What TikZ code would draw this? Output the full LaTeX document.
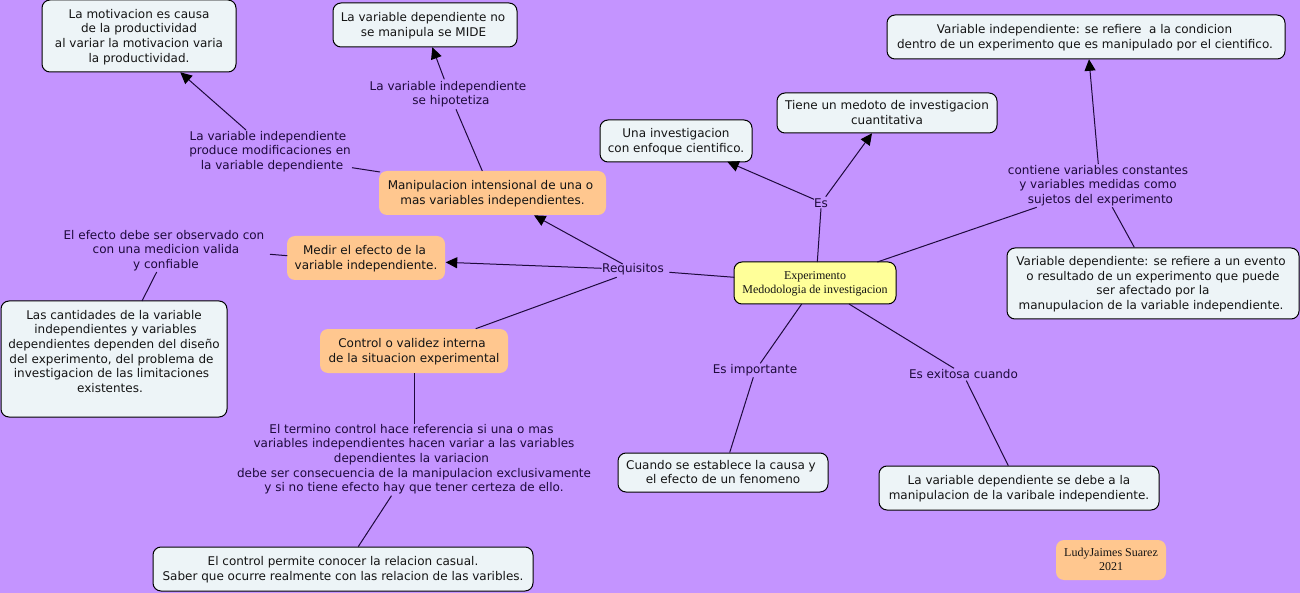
\documentclass[tikz,border=0pt]{standalone}
\usepackage{fontspec}
\setmainfont{DejaVu Sans}
\newfontfamily\serifcap{Liberation Serif}
\usetikzlibrary{arrows.meta}
\definecolor{bgp}{HTML}{C494FF}
\definecolor{boxc}{HTML}{EDF4F7}
\definecolor{orangec}{HTML}{FFC78F}
\definecolor{yellowc}{HTML}{FFFF99}
\definecolor{inkc}{HTML}{1E0A3C}
\definecolor{boxink}{HTML}{141414}
\newcommand{\tgap}[1]{\rule{#1pt}{0pt}}
\newcommand{\fs}{\rule{0pt}{11.3pt}}
\newcommand{\fss}{\rule{0pt}{10.2pt}}
\tikzset{
  txtbase/.style={align=center,inner sep=0pt},
  txt/.style={txtbase,font=\fontsize{12}{14.6}\selectfont,
    execute at end node={\rule[-3pt]{0pt}{3pt}}},
  boxn/.style={txt,text=boxink,draw=black,line width=1pt,fill=boxc,rounded corners=8pt},
  orangen/.style={txt,text=boxink,fill=orangec,rounded corners=8pt},
  yellown/.style={txtbase,text=boxink,draw=black,line width=1pt,fill=yellowc,rounded corners=8pt,
    font=\serifcap\fontsize{12}{13.6}\selectfont,
    execute at end node={\rule[-3pt]{0pt}{3pt}}},
  ludyn/.style={orangen,font=\serifcap\fontsize{12}{13.6}\selectfont},
  lab/.style={txt,text=inkc},
  conn/.style={line width=1pt,color=inkc},
  arr/.style={conn,-{Triangle[length=11.5pt,width=11pt,color=black]}}
}
\begin{document}
\begin{tikzpicture}[x=1pt,y=-1pt]
\useasboundingbox (0,0) rectangle (1300,593);
\fill[bgp] (0,0) rectangle (1300,593);
% boxes
\node[boxn,minimum width=194pt,minimum height=72pt] (motiv) at (139,36) {\fs La motivacion es causa\\de la productividad\\al variar la motivacion varia\\la productividad.};
\node[boxn,minimum width=184pt,minimum height=44pt] (nomide) at (425,25) {\fs La variable dependiente no\tgap{4}\\se manipula se MIDE\tgap{3}};
\node[boxn,minimum width=220pt,minimum height=40pt] (tiene) at (887,113) {\fs Tiene un medoto de investigacion\\cuantitativa};
\node[boxn,minimum width=152pt,minimum height=42pt] (una) at (676,141) {\fs Una investigacion\\con enfoque cientifico.};
\node[boxn,minimum width=398pt,minimum height=44pt] (vind) at (1086,37) {\fs Variable independiente: se refiere\ \ a la condicion\tgap{3}\\dentro de un experimento que es manipulado por el cientifico.\tgap{2}};
\node[boxn,minimum width=292pt,minimum height=71pt] (vdep) at (1153,283.5) {\fs Variable dependiente: se refiere a un evento\tgap{4}\\o resultado de un experimento que puede\\ser afectado por la\\manupulacion de la variable independiente.\tgap{4}};
\node[yellown,minimum width=162pt,minimum height=42pt] (exp) at (815,283) {\fss Experimento\\Medodologia de investigacion};
\node[orangen,minimum width=227pt,minimum height=44pt] (man) at (492.5,193) {\fs Manipulacion intensional de una o\tgap{4}\\mas variables independientes.};
\node[orangen,minimum width=158pt,minimum height=44pt] (medir) at (366,258) {\fs Medir el efecto de la\tgap{3}\\variable independiente.};
\node[orangen,minimum width=188pt,minimum height=44pt] (ctrl) at (414,351) {\fs Control o validez interna\tgap{4}\\de la situacion experimental};
\node[boxn,minimum width=226pt,minimum height=116pt] (cant) at (114,359) {\fs Las cantidades de la variable\\\tgap{3}independientes y variables\\dependientes dependen del diseño\\del experimento, del problema de\tgap{5}\\investigacion de las limitaciones\tgap{5}\\existentes.\tgap{8}\\\mbox{}};
\node[boxn,minimum width=210pt,minimum height=39pt] (cuando) at (723,472.5) {\fs Cuando se establece la causa y\tgap{4}\\el efecto de un fenomeno};
\node[boxn,minimum width=280pt,minimum height=44pt] (lavar) at (1019,488) {\fs La variable dependiente se debe a la\\manipulacion de la varibale independiente.};
\node[boxn,minimum width=380pt,minimum height=44pt] (permite) at (343,569) {\fs El control permite conocer la relacion casual.\\Saber que ocurre realmente con las relacion de las varibles.};
\node[ludyn,minimum width=110pt,minimum height=40pt] (ludy) at (1111,560) {\fss LudyJaimes Suarez\\2021};
% linking phrases
\node[lab] (lhip) at (448,93.3) {\fs La variable independiente\\\tgap{6}se hipotetiza};
\node[lab] (lprod) at (270,150.7) {\fs La variable independiente\tgap{4}\\produce modificaciones en\\\tgap{4}la variable dependiente};
\node[lab] (lefe) at (164,249.8) {\fs El efecto debe ser observado con\\\tgap{4}con una medicion valida\\\tgap{4}y confiable};
\node[lab] (lreq) at (633,268.7) {\fs Requisitos};
\node[lab] (les) at (821,203.3) {\fs Es};
\node[lab] (lcont) at (1098,184.7) {\fs contiene variables constantes\\y variables medidas como\\\tgap{5}sujetos del experimento};
\node[lab] (limp) at (755,369) {\fs Es importante};
\node[lab] (lexi) at (963.5,374.3) {\fs Es exitosa cuando};
\node[lab] (lter) at (414,458.3) {\fs El termino control hace referencia si una o mas\tgap{5}\\variables independientes hacen variar a las variables\\dependientes la variacion\tgap{5}\\debe ser consecuencia de la manipulacion exclusivamente\\y si no tiene efecto hay que tener certeza de ello.};
% connectors
\draw[arr] ([shift={(-24pt,20.7pt)}]lprod.center) -- ([shift={(41.3pt,-36.3pt)}]motiv.center);
\draw[conn] ([shift={(-112.5pt,21pt)}]man.center) -- ([shift={(82pt,-17pt)}]lprod.center);
\draw[conn] ([shift={(-10.2pt,22pt)}]man.center) -- ([shift={(8pt,-16pt)}]lhip.center);
\draw[arr] ([shift={(-3.7pt,14pt)}]lhip.center) -- ([shift={(7.3pt,-22.3pt)}]nomide.center);
\draw[arr] ([shift={(-10.3pt,4.7pt)}]lreq.center) -- ([shift={(41.5pt,-22.3pt)}]man.center);
\draw[arr] ([shift={(-31.3pt,0.4pt)}]lreq.center) -- ([shift={(79.7pt,-4.3pt)}]medir.center);
\draw[conn] ([shift={(-78.7pt,2.3pt)}]medir.center) -- ([shift={(106pt,-4.5pt)}]lefe.center);
\draw[conn] ([shift={(-7.3pt,-22.2pt)}]lefe.center) -- ([shift={(28pt,58pt)}]cant.center);
\draw[conn] ([shift={(-16.3pt,-8.6pt)}]lreq.center) -- ([shift={(61.7pt,22.3pt)}]ctrl.center);
\draw[conn] ([shift={(0.5pt,-22pt)}]ctrl.center) -- ([shift={(0.5pt,34.3pt)}]lter.center);
\draw[conn] ([shift={(-22.5pt,-37.4pt)}]lter.center) -- ([shift={(15.2pt,22.3pt)}]permite.center);
\draw[conn] ([shift={(-80.7pt,5.7pt)}]exp.center) -- ([shift={(36.3pt,-3.6pt)}]lreq.center);
\draw[conn] ([shift={(2.3pt,21pt)}]exp.center) -- ([shift={(0pt,-5pt)}]les.center);
\draw[arr] ([shift={(-7pt,4pt)}]les.center) -- ([shift={(51.3pt,-20.7pt)}]una.center);
\draw[arr] ([shift={(4.7pt,6.6pt)}]les.center) -- ([shift={(-15pt,-20.3pt)}]tiene.center);
\draw[conn] ([shift={(62.3pt,21pt)}]exp.center) -- ([shift={(-61.3pt,-22.6pt)}]lcont.center);
\draw[arr] ([shift={(0.3pt,20.7pt)}]lcont.center) -- ([shift={(3pt,-22.3pt)}]vind.center);
\draw[conn] ([shift={(14.3pt,-22.6pt)}]lcont.center) -- ([shift={(-18.7pt,36.2pt)}]vdep.center);
\draw[conn] ([shift={(-13.3pt,-21pt)}]exp.center) -- ([shift={(5.3pt,5.7pt)}]limp.center);
\draw[conn] ([shift={(-1.7pt,-8.3pt)}]limp.center) -- ([shift={(6.7pt,20pt)}]cuando.center);
\draw[conn] ([shift={(34pt,-21pt)}]exp.center) -- ([shift={(-9.5pt,6pt)}]lexi.center);
\draw[conn] ([shift={(2.8pt,-6.4pt)}]lexi.center) -- ([shift={(-10.7pt,22.3pt)}]lavar.center);
\end{tikzpicture}
\end{document}
